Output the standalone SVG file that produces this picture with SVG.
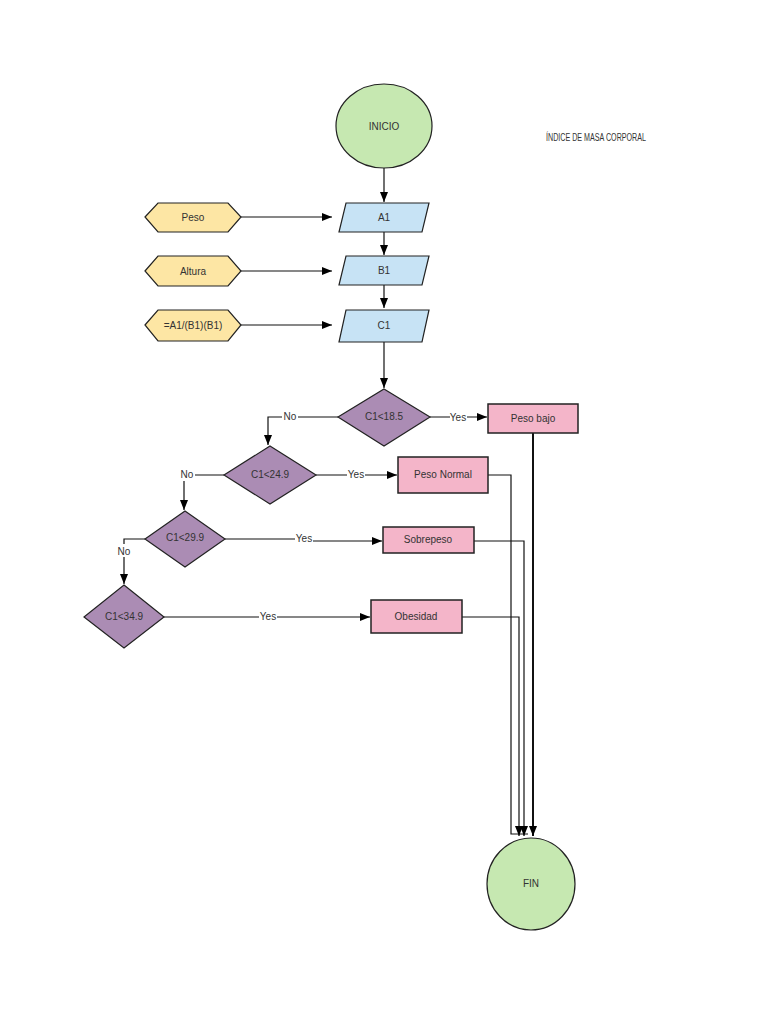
<svg xmlns="http://www.w3.org/2000/svg" width="768" height="1024" viewBox="0 0 768 1024">
<defs>
<marker id="ah" markerWidth="10" markerHeight="8" refX="10" refY="4" orient="auto" markerUnits="userSpaceOnUse">
<path d="M0,0 L10,4 L0,8 Z" fill="#000"/>
</marker>
<style>
text{font-family:"Liberation Sans",Arial,sans-serif;font-size:10px;fill:#333;text-anchor:middle;dominant-baseline:central}
.term{fill:#c6e8b1;stroke:#222;stroke-width:1.2}
.io{fill:#c7e3f5;stroke:#222;stroke-width:1.2}
.hex{fill:#fde6a4;stroke:#222;stroke-width:1.2}
.dia{fill:#ab8cb4;stroke:#222;stroke-width:1.2}
.box{fill:#f4b5c9;stroke:#222;stroke-width:1.5}
.c{fill:none;stroke:#111;stroke-width:1.2}
.cb{fill:none;stroke:#111;stroke-width:2}
.lbl{fill:#333}
</style>
</defs>
<rect width="768" height="1024" fill="#fff"/>
<text x="596" y="137" font-size="9" textLength="100" lengthAdjust="spacingAndGlyphs">ÍNDICE DE MASA CORPORAL</text>

<g id="connectors">
<path class="c" d="M384,168 V202" marker-end="url(#ah)"/>
<path class="c" d="M384,232 V255" marker-end="url(#ah)"/>
<path class="c" d="M384,285 V308" marker-end="url(#ah)"/>
<path class="c" d="M384,342 V388" marker-end="url(#ah)"/>
<path class="c" d="M241,217 H332" marker-end="url(#ah)"/>
<path class="c" d="M241,271 H332" marker-end="url(#ah)"/>
<path class="c" d="M241,325 H332" marker-end="url(#ah)"/>
<path class="c" d="M430,417 H487" marker-end="url(#ah)"/>
<path class="c" d="M338,417 H268 V445" marker-end="url(#ah)"/>
<path class="c" d="M316,475 H397" marker-end="url(#ah)"/>
<path class="c" d="M224,475 H184 V510" marker-end="url(#ah)"/>
<path class="c" d="M225,539 H304 L310,541 H382" marker-end="url(#ah)"/>
<path class="c" d="M145,539 H124 V584" marker-end="url(#ah)"/>
<path class="c" d="M164,617 H370" marker-end="url(#ah)"/>
<path class="cb" d="M533,433 V836" marker-end="url(#ah)"/>
<path class="c" d="M488,475 H511 V834 H528"/>
<path class="c" d="M474,541 H524 V836" marker-end="url(#ah)"/>
<path class="c" d="M462,617 H519 V836" marker-end="url(#ah)"/>
<rect x="450" y="410" width="17" height="13" fill="#fff"/>
<text class="lbl" x="458" y="417">Yes</text>
<rect x="282" y="410" width="16" height="13" fill="#fff"/>
<text class="lbl" x="290" y="416">No</text>
<rect x="347" y="468" width="18" height="13" fill="#fff"/>
<text class="lbl" x="356" y="474">Yes</text>
<rect x="179" y="468" width="16" height="13" fill="#fff"/>
<text class="lbl" x="187" y="474">No</text>
<rect x="295" y="532" width="18" height="13" fill="#fff"/>
<text class="lbl" x="304" y="538">Yes</text>
<rect x="116" y="544" width="16" height="13" fill="#fff"/>
<text class="lbl" x="124" y="551">No</text>
<rect x="259" y="610" width="18" height="13" fill="#fff"/>
<text class="lbl" x="268" y="616">Yes</text>
</g>

<g id="inicio"><ellipse class="term" cx="384" cy="126" rx="48" ry="42"/><text x="384" y="126">INICIO</text></g>
<g id="peso"><polygon class="hex" points="145,217 158,203 228,203 241,217 228,232 158,232"/><text x="193" y="217">Peso</text></g>
<g id="altura"><polygon class="hex" points="145,271 158,256 228,256 241,271 228,286 158,286"/><text x="193" y="271">Altura</text></g>
<g id="formula"><polygon class="hex" points="145,325 158,310 228,310 241,325 228,341 158,341"/><text x="193" y="325">=A1/(B1)(B1)</text></g>
<g id="a1"><polygon class="io" points="346,203 429,203 422,232 339,232"/><text x="384" y="217">A1</text></g>
<g id="b1"><polygon class="io" points="346,256 429,256 422,285 339,285"/><text x="384" y="270">B1</text></g>
<g id="c1"><polygon class="io" points="346,310 429,310 422,342 339,342"/><text x="384" y="325">C1</text></g>
<g id="d1"><polygon class="dia" points="384,389 430,417 384,446 338,417"/><text x="384" y="416">C1&lt;18.5</text></g>
<g id="d2"><polygon class="dia" points="270,446 316,475 270,504 224,475"/><text x="270" y="474">C1&lt;24.9</text></g>
<g id="d3"><polygon class="dia" points="185,511 225,539 185,567 145,539"/><text x="185" y="537">C1&lt;29.9</text></g>
<g id="d4"><polygon class="dia" points="124,585 164,617 124,648 84,617"/><text x="124" y="616">C1&lt;34.9</text></g>
<g id="pesobajo"><rect class="box" x="488" y="404" width="90" height="29"/><text x="533" y="418">Peso bajo</text></g>
<g id="pesonormal"><rect class="box" x="398" y="457" width="90" height="36"/><text x="443" y="474">Peso Normal</text></g>
<g id="sobrepeso"><rect class="box" x="383" y="527" width="91" height="26"/><text x="428" y="539">Sobrepeso</text></g>
<g id="obesidad"><rect class="box" x="371" y="600" width="91" height="33"/><text x="416" y="616">Obesidad</text></g>
<g id="fin"><ellipse class="term" cx="531" cy="884" rx="44" ry="46"/><text x="531" y="883">FIN</text></g>
</svg>
